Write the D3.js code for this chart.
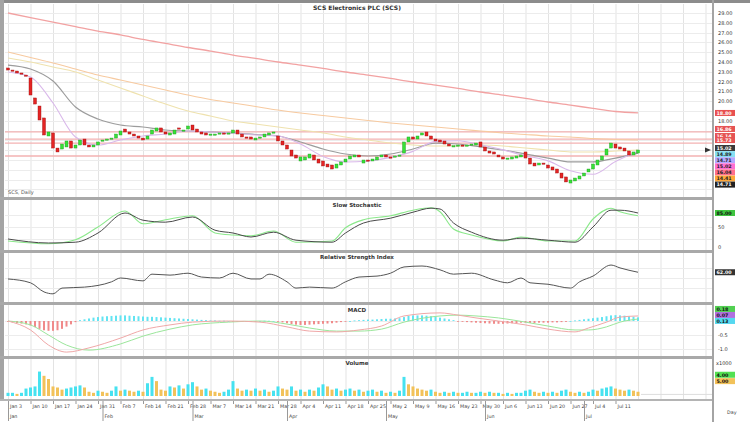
<!DOCTYPE html>
<html><head><meta charset="utf-8">
<script src="https://cdn.jsdelivr.net/npm/d3@7"></script>
<style>body{margin:0;background:#fff;} svg{display:block;font-family:"DejaVu Sans",sans-serif;}</style>
</head><body><svg id="c" width="750" height="422"></svg>
<script>
const chartTitle = "SCS Electronics PLC (SCS)";
const openP = [23.39,23.18,23.08,22.88,22.67,22.37,20.33,19.51,18.29,16.45,
16.76,15.22,15.12,15.33,15.94,15.22,15.53,16.14,15.53,15.33,
15.53,15.94,16.04,16.14,16.24,16.55,17.16,16.86,16.65,16.45,
16.24,16.14,16.65,16.96,17.27,16.86,16.55,16.65,17.27,16.96,
17.16,17.57,17.16,16.86,16.76,16.55,16.62,16.65,16.76,16.65,
16.76,17.06,16.65,16.35,16.35,16.04,16.24,16.35,16.55,16.76,
16.45,15.94,15.53,15.02,14.51,13.90,14.00,14.20,14.51,14.10,
13.90,13.59,13.49,13.18,13.49,13.80,14.10,14.31,14.51,13.69,
14.00,13.90,14.00,14.31,14.51,14.31,14.31,14.41,14.71,15.84,
16.35,16.14,16.55,16.86,16.45,16.14,16.04,15.94,15.63,15.43,
15.43,15.53,15.43,15.53,15.53,15.84,15.33,14.92,14.82,14.51,
14.31,14.10,14.10,14.20,14.31,14.82,14.20,13.69,13.49,13.69,
13.49,13.29,13.08,12.67,12.27,11.65,11.86,12.06,12.37,12.78,
13.08,13.49,14.00,14.51,15.22,15.63,15.33,15.22,14.92,14.51,14.71];
const closeP = [23.18,23.08,22.88,22.78,22.57,20.63,19.71,18.08,16.55,16.86,
15.22,14.82,15.63,15.94,15.22,15.53,16.04,15.53,15.33,15.53,
15.84,16.04,16.14,16.24,16.65,16.96,16.86,16.65,16.45,16.24,
16.04,16.45,17.06,17.27,16.86,16.65,16.76,17.06,17.16,17.06,
17.47,17.06,16.86,16.65,16.55,16.65,16.65,16.76,16.65,16.76,
17.06,16.65,16.35,16.24,16.14,16.24,16.35,16.65,16.76,16.86,
15.94,15.53,15.12,14.41,14.20,14.31,14.31,14.61,14.00,13.69,
13.39,13.29,13.08,13.59,13.80,14.10,14.41,14.51,14.31,14.00,
13.90,14.10,14.31,14.51,14.31,14.20,14.41,14.51,15.84,16.35,
16.14,16.45,16.76,16.45,16.14,15.94,15.84,15.63,15.43,15.45,
15.53,15.43,15.53,15.63,15.73,15.33,14.92,14.71,14.61,14.31,
14.10,14.20,14.31,14.41,14.51,14.20,13.59,13.39,13.69,13.59,
13.18,12.98,12.67,12.16,11.76,11.96,12.16,12.37,12.67,13.08,
13.59,14.00,14.41,15.12,15.73,15.22,15.12,14.92,14.51,14.82,15.02];
const volume = [3,3,2,3,7,8,9,23,19,16,
9,8,6,7,8,9,10,8,4,3,
5,4,3,5,9,5,6,5,4,5,
4,12,18,14,6,5,9,8,10,7,
11,13,9,6,7,5,4,3,4,6,
14,7,5,6,5,7,5,6,4,5,
9,7,6,9,5,6,4,6,5,8,
11,9,6,7,5,6,7,5,6,4,
5,6,4,5,3,4,3,5,18,11,
9,7,6,5,6,4,3,4,3,4,
3,3,4,3,3,4,3,4,3,3,
2,3,2,3,3,5,6,4,3,4,
3,4,3,5,6,4,3,4,3,4,
6,5,7,8,9,7,6,5,6,5,4];
const maIdx = [0,5,10,15,20,25,30,35,40,45,50,55,60,65,70,75,80,85,90,95,100,105,110,115,120,125,130,135,140];
const ma200 = [29.00,28.52,28.08,27.62,27.16,26.76,26.30,25.89,25.48,25.12,24.71,24.36,24.00,23.69,23.34,22.98,22.67,22.32,21.96,21.65,21.30,20.94,20.63,20.28,19.92,19.61,19.26,18.95,18.80];
const ma100 = [25.02,24.46,23.90,23.29,22.67,22.16,21.65,21.14,20.63,20.17,19.82,19.46,19.10,18.80,18.54,18.29,18.03,17.78,17.57,17.37,17.16,16.96,16.76,16.60,16.45,16.35,16.19,16.09,16.04];
const ma50 = [24.41,24.00,23.49,22.98,22.16,21.35,20.53,19.71,19.00,18.49,17.98,17.67,17.37,17.06,16.76,16.35,16.04,15.73,15.53,15.43,15.43,15.53,15.43,15.22,15.02,14.82,14.82,14.92,15.02];
const ma20 = [23.69,23.29,22.06,19.41,18.18,17.57,17.37,17.06,16.96,16.86,16.76,16.60,16.45,15.84,15.12,14.61,14.41,14.61,15.12,15.73,15.63,15.33,15.02,14.61,14.20,13.80,13.80,14.20,14.71];
const ma10 = [22.98,22.47,19.82,16.35,15.53,16.04,16.45,16.65,16.96,16.86,16.76,16.55,16.45,15.63,14.36,13.80,13.90,14.27,14.88,15.90,15.96,15.55,15.03,14.43,13.91,12.90,12.54,13.84,14.89];
const levels = [16.86, 16.14, 15.73, 14.41];
const priceTicks = [11,12,13,14,15,16,17,18,19,20,21,22,23,24,25,26,27,28,29];
const stochIdx = [0,9,15,20,26,30,35,41,46,50,54,59,64,72,75,79,85,90,94,96,99,103,110,114,120,126,130,134,136,140];
const stochK = [15,8,18,50,90,58,68,78,35,30,28,40,12,15,48,68,78,92,98,88,45,30,15,25,15,15,70,97,88,78];
const stochD = [20,10,12,35,85,67,62,75,42,35,25,37,17,12,35,60,72,87,97,95,60,37,17,22,17,12,50,92,92,85];
const rsiIdx = [0,5,8,10,12,17,23,25,30,32,36,40,43,47,50,54,56,58,62,64,67,72,75,78,82,85,88,92,96,99,103,108,111,114,116,120,125,127,130,134,136,140];
const rsiVal = [48,40,21,17,29,31,42,50,44,58,56,60,52,50,60,48,48,58,42,29,31,29,42,52,54,60,73,75,67,58,60,46,40,50,40,37,29,42,54,77,71,62];
const macdIdx = [0,5,9,13,18,25,30,36,41,49,56,62,67,73,78,83,88,96,100,104,109,115,120,126,129,133,136,140];
const macdLine = [0,-0.32,-0.86,-1.11,-0.96,-0.61,-0.32,-0.14,-0.04,0,-0.04,-0.21,-0.36,-0.39,-0.32,-0.18,0.18,0.29,0.21,0.11,0,-0.14,-0.29,-0.39,-0.25,-0.04,0.14,0.18];
const macdSignal = [0,-0.14,-0.5,-0.86,-1.04,-0.82,-0.54,-0.29,-0.14,-0.04,0,-0.11,-0.25,-0.36,-0.36,-0.29,-0.04,0.18,0.21,0.18,0.11,-0.04,-0.18,-0.32,-0.32,-0.21,-0.04,0.07];
const macdHist = [-0.03,-0.05,-0.07,-0.09,-0.12,-0.16,-0.22,-0.28,-0.33,-0.35,-0.35,-0.33,-0.28,-0.2,-0.12,-0.04,
0.03,0.06,0.09,0.12,0.14,0.16,0.17,0.18,0.19,0.2,0.2,0.19,0.18,0.17,0.16,0.15,0.15,0.14,0.13,0.12,0.11,0.1,0.09,0.08,0.07,0.06,0.05,0.04,0.03,0.02,0.02,0.01,0.01,0.0,
-0.01,-0.02,-0.03,-0.02,-0.02,-0.01,0.0,0.01,0.01,0.0,-0.02,
-0.05,-0.08,-0.11,-0.13,-0.14,-0.14,-0.13,-0.12,-0.11,-0.1,-0.09,-0.08,-0.06,-0.04,-0.02,
0.0,0.02,0.03,0.04,0.05,0.05,0.06,0.07,0.08,0.08,0.09,0.1,0.14,0.18,0.2,0.2,0.2,0.19,0.17,0.15,0.12,0.09,0.06,0.03,
-0.01,-0.03,-0.04,-0.05,-0.06,-0.07,-0.08,-0.09,-0.1,-0.1,-0.1,-0.09,-0.08,-0.07,-0.06,-0.06,-0.07,-0.07,-0.06,-0.06,-0.06,-0.05,-0.05,-0.04,-0.03,
0.0,0.02,0.04,0.06,0.08,0.1,0.12,0.14,0.17,0.2,0.21,0.2,0.19,0.17,0.15,0.13];
const gridIdx = [0,5,10,15,20,25,30,35,40,45,50,55,60,65,70,75,80,85,90,95,100,105,110,115,120,125,130,135,140,145,150,155];
const weekIdx = [0,5,10,15,20,25,30,35,40,45,50,55,60,65,70,75,80,85,90,95,100,105,110,115,120,125,130,135];
const weekLabels = ["Jan 3","Jan 10","Jan 17","Jan 24","Jan 31","Feb 7","Feb 14","Feb 21","Feb 28","Mar 7","Mar 14","Mar 21","Mar 28","Apr 4","Apr 11","Apr 18","Apr 25","May 2","May 9","May 16","May 23","May 30","Jun 6","Jun 13","Jun 20","Jun 27","Jul 4","Jul 11"];
const monthIdx = [0,21,41,62,84,106,128];
const monthLabels = ["Jan","Feb","Mar","Apr","May","Jun","Jul"];

const svg = d3.select("#c");
const L = 5, R = 712;
const x = d3.scaleLinear().domain([0,140]).range([8,638]);
const yP = d3.scaleLinear().domain([10,30]).range([199.2,3.2]);
const yS = d3.scaleLinear().domain([0,100]).range([247,207]);
const yR = d3.scaleLinear().domain([0,100]).range([302,254]);
const yM = d3.scaleLinear().domain([-1.25,0.5]).range([356,307]);
const yV = d3.scaleLinear().domain([0,32]).range([396,362]);
const panels = {main:[4,197], stoch:[200,250], rsi:[253,302], macd:[305,356], vol:[359,399]};

svg.append("rect").attr("width",750).attr("height",422).attr("fill","#fff");
const defs = svg.append("defs");
Object.entries(panels).forEach(([k,[t,b]])=>{
  defs.append("clipPath").attr("id","cl-"+k).append("rect").attr("x",L).attr("y",t).attr("width",R-L).attr("height",b-t);
});
function layer(k){ return svg.append("g").attr("clip-path","url(#cl-"+k+")"); }

Object.entries(panels).forEach(([k,[t,b]])=>{
  svg.append("g").selectAll("line").data(gridIdx).join("line")
    .attr("x1",d=>x(d)+0.5).attr("x2",d=>x(d)+0.5).attr("y1",t).attr("y2",b)
    .attr("stroke","#e3e3e3").attr("stroke-width",1);
});
svg.append("g").selectAll("line").data(priceTicks).join("line")
  .attr("x1",L).attr("x2",R).attr("y1",d=>Math.round(yP(d))+0.5).attr("y2",d=>Math.round(yP(d))+0.5)
  .attr("stroke","#ececec");
svg.append("g").selectAll("line").data([20,50,80]).join("line")
  .attr("x1",L).attr("x2",R).attr("y1",d=>Math.round(yS(d))+0.5).attr("y2",d=>Math.round(yS(d))+0.5).attr("stroke","#ececec");
svg.append("g").selectAll("line").data([30,50,70]).join("line")
  .attr("x1",L).attr("x2",R).attr("y1",d=>Math.round(yR(d))+0.5).attr("y2",d=>Math.round(yR(d))+0.5).attr("stroke","#ececec");
svg.append("g").selectAll("line").data([0,-0.5,-1]).join("line")
  .attr("x1",L).attr("x2",R).attr("y1",d=>Math.round(yM(d))+0.5).attr("y2",d=>Math.round(yM(d))+0.5).attr("stroke","#ececec");

// ---- main panel
const gm = layer("main");
gm.selectAll("line.lv").data(levels).join("line").attr("class","lv")
  .attr("x1",L).attr("x2",R).attr("y1",d=>yP(d)).attr("y2",d=>yP(d))
  .attr("stroke","#f3b2b2").attr("stroke-width",1.3);
const maLine = vals => d3.line().curve(d3.curveMonotoneX).x((d,i)=>x(maIdx[i])).y(d=>yP(d))(vals);
[[ma200,"#f2a2a2",1.3],[ma100,"#f7caa0",1.1],[ma50,"#efe2ae",1.1],[ma20,"#9c9c9c",1.2],[ma10,"#d9b8ea",1.1]]
 .forEach(([v,c,w])=>gm.append("path").attr("d",maLine(v)).attr("fill","none").attr("stroke",c).attr("stroke-width",w));
const cd = openP.map((o,i)=>({i,o,c:closeP[i]}));
gm.selectAll("rect.cd").data(cd).join("rect").attr("class","cd")
  .attr("x",d=>x(d.i)-1.5).attr("width",3)
  .attr("y",d=>yP(Math.max(d.o,d.c)))
  .attr("height",d=>Math.max(1.2,Math.abs(yP(d.o)-yP(d.c))))
  .attr("fill",d=>d.c>=d.o?"#38e038":"#e42424")
  .attr("stroke",d=>d.c>=d.o?"#1f9a1f":"#9a1010").attr("stroke-width",0.4);
svg.append("text").attr("x",8).attr("y",194).attr("font-size",5).attr("fill","#555").text("SCS, Daily");
svg.append("text").attr("x",357).attr("y",9.5).attr("text-anchor","middle").attr("font-size",6).attr("font-weight","bold").attr("fill","#333").text(chartTitle);

// ---- stochastic
const gs = layer("stoch");
const lineIdx = (idx,sc)=>d3.line().curve(d3.curveMonotoneX).x((d,i)=>x(idx[i])).y(d=>sc(d));
gs.append("path").attr("d",lineIdx(stochIdx,yS)(stochK)).attr("fill","none").attr("stroke","#8be88b").attr("stroke-width",1.1);
gs.append("path").attr("d",lineIdx(stochIdx,yS)(stochD)).attr("fill","none").attr("stroke","#4a4a4a").attr("stroke-width",1);
svg.append("text").attr("x",357).attr("y",207).attr("text-anchor","middle").attr("font-size",5.5).attr("font-weight","bold").attr("fill","#333").text("Slow  Stochastic");

// ---- rsi
const gr = layer("rsi");
gr.append("path").attr("d",lineIdx(rsiIdx,yR)(rsiVal)).attr("fill","none").attr("stroke","#555").attr("stroke-width",1);
svg.append("text").attr("x",357).attr("y",259).attr("text-anchor","middle").attr("font-size",5.5).attr("font-weight","bold").attr("fill","#333").text("Relative  Strength  Index");

// ---- macd
const gc = layer("macd");
gc.selectAll("rect").data(macdHist).join("rect")
  .attr("x",(d,i)=>x(i)-1).attr("width",2)
  .attr("y",d=>Math.min(yM(d),yM(0))).attr("height",d=>Math.max(0.8,Math.abs(yM(d)-yM(0))))
  .attr("fill",d=>d>=0?"#62e4f2":"#f08a8a");
gc.append("path").attr("d",lineIdx(macdIdx,yM)(macdSignal)).attr("fill","none").attr("stroke","#9be69b").attr("stroke-width",1);
gc.append("path").attr("d",lineIdx(macdIdx,yM)(macdLine)).attr("fill","none").attr("stroke","#f0a8a8").attr("stroke-width",1);
svg.append("text").attr("x",357).attr("y",312).attr("text-anchor","middle").attr("font-size",5.5).attr("font-weight","bold").attr("fill","#333").text("MACD");

// ---- volume
const gv = layer("vol");
gv.selectAll("rect").data(volume).join("rect")
  .attr("x",(d,i)=>x(i)-1.5).attr("width",3)
  .attr("y",d=>yV(d)).attr("height",d=>yV(0)-yV(d))
  .attr("fill",(d,i)=> (i===0||d>=volume[i-1])?"#46e2f0":"#f2c25a");
svg.append("line").attr("x1",x(140)+3).attr("x2",R).attr("y1",yV(1.5)).attr("y2",yV(1.5)).attr("stroke","#ddd");
svg.append("text").attr("x",357).attr("y",365).attr("text-anchor","middle").attr("font-size",5.5).attr("font-weight","bold").attr("fill","#333").text("Volume");

// ---- frame
const fr = svg.append("g");
fr.append("rect").attr("x",0).attr("y",0).attr("width",750).attr("height",3).attr("fill","#8c8c8c");
fr.append("rect").attr("x",0).attr("y",0).attr("width",4).attr("height",401).attr("fill","#a4a4a4");
[197,250,302,356].forEach(t=>fr.append("rect").attr("x",0).attr("y",t).attr("width",R+1).attr("height",3).attr("fill","#a9a9a9"));
fr.append("rect").attr("x",0).attr("y",399).attr("width",R+1).attr("height",2).attr("fill","#b4b4b4");
fr.append("rect").attr("x",R).attr("y",0).attr("width",2).attr("height",422).attr("fill","#a4a4a4");

// ---- right axis
const ax = svg.append("g").attr("font-size",5).attr("fill","#333");
const boxYs = [];
const boxes = [];
function box(y,fill,txt,tc){ boxYs.push(y); boxes.push([y,fill,txt,tc]); }
function drawBoxes(){
  boxes.forEach(([y,fill,txt,tc])=>{
    ax.append("rect").attr("x",715).attr("y",y-3).attr("width",20).attr("height",6).attr("fill",fill);
    ax.append("text").attr("x",716.5).attr("y",y+1.8).attr("fill",tc||"#fff").attr("font-weight","bold").attr("font-size",4.8).text(txt);
  });
}
box(yP(ma200[ma200.length-1]),"#e85050",d3.format(".2f")(ma200[ma200.length-1]));
levels.slice(0,3).forEach(v=>box(yP(v)-3,"#e65454",d3.format(".2f")(v)));
const lastC = closeP[closeP.length-1];
const stackVals = [lastC, ma10[28], ma20[28], ma50[28], ma100[28], levels[3], openP[140]];
const stackCols = ["#3a3a3a","#86e0f2","#b4a8ff","#ff6fd2","#ff6f8c","#ffa83a","#222"];
const stackTxt = ["#fff","#222","#222","#222","#222","#222","#fff"];
stackVals.forEach((v,k)=>box(yP(lastC)-2+k*6.1,stackCols[k],d3.format(".2f")(v),stackTxt[k]));
const shownTicks = priceTicks.filter(t=>boxYs.every(b=>Math.abs(yP(t)-b)>6.5));
ax.selectAll("text.pt").data(shownTicks).join("text").attr("class","pt")
  .attr("x",718).attr("y",d=>yP(d)+2).text(d=>d3.format(".2f")(d));
ax.append("path").attr("d",`M${R-7},${yP(lastC)-2.5}L${R-1},${yP(lastC)}L${R-7},${yP(lastC)+2.5}Z`).attr("fill","#333");
// stoch axis
ax.selectAll("text.st").data([50,0]).join("text").attr("class","st").attr("x",718).attr("y",d=>yS(d)+2).text(d=>d);
box(yS(stochD[stochD.length-1]),"#3fc43f",String(stochD[stochD.length-1].toFixed(2)),"#111");
// rsi axis
box(yR(rsiVal[rsiVal.length-1]),"#333",rsiVal[rsiVal.length-1].toFixed(2));
// macd axis
ax.selectAll("text.mc").data([-0.5,-1]).join("text").attr("class","mc").attr("x",718).attr("y",d=>yM(d)+2).text(d=>d.toFixed(1));
[[macdLine[27],"#52d052"],[macdSignal[27],"#b070e0"],[macdHist[140],"#55d8f0"]]
  .forEach(([v,c],k)=>box(yM(0.43)+k*6,c,v.toFixed(2),"#111"));
// volume axis
ax.append("text").attr("x",716).attr("y",365).text("x1000");
box(yV(20),"#52e052",volume[140]+".00","#111");
box(yV(14),"#f2c25a",volume[139]+".00","#111");
drawBoxes();

// ---- bottom axis
const bx = svg.append("g").attr("font-size",4.8).attr("fill","#444");
bx.selectAll("line.wk").data(weekIdx).join("line").attr("class","wk")
  .attr("x1",d=>x(d)+0.5).attr("x2",d=>x(d)+0.5).attr("y1",401).attr("y2",404).attr("stroke","#999");
bx.selectAll("text.wk").data(weekIdx).join("text").attr("class","wk")
  .attr("x",d=>x(d)+2).attr("y",408).text((d,i)=>weekLabels[i]);
bx.selectAll("line.mo").data(monthIdx).join("line").attr("class","mo")
  .attr("x1",d=>x(d)+0.5).attr("x2",d=>x(d)+0.5).attr("y1",401).attr("y2",421).attr("stroke","#999");
bx.selectAll("text.mo").data(monthIdx).join("text").attr("class","mo")
  .attr("x",d=>x(d)+2).attr("y",418).text((d,i)=>monthLabels[i]);
bx.append("text").attr("x",727).attr("y",414).text("Day");
</script></body></html>
